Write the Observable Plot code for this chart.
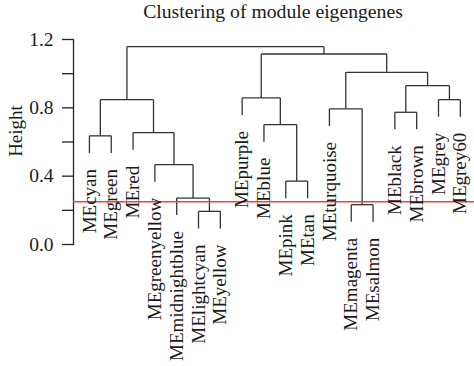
<!DOCTYPE html>
<html>
<head>
<meta charset="utf-8">
<script src="https://cdn.jsdelivr.net/npm/d3@7"></script>
<script src="https://cdn.jsdelivr.net/npm/@observablehq/plot@0.6"></script>
<style>
  body { margin: 0; background: #fff; }
  #title { font-family: "Liberation Serif", serif; font-size: 19.7px; color: #1a1a1a; text-align: center; width: 474px; position: absolute; top: 0; left: 36px; line-height: 22px; }
  #chart { position: absolute; top: 0; left: 0; }
</style>
</head>
<body>
<div id="chart"></div>
<div id="title">Clustering of module eigengenes</div>
<script>
// Leaf labels in dendrogram order
const leaves = ["MEcyan","MEgreen","MEred","MEgreenyellow","MEmidnightblue","MElightcyan","MEyellow",
  "MEpurple","MEblue","MEpink","MEtan","MEturquoise","MEmagenta","MEsalmon",
  "MEblack","MEbrown","MEgrey","MEgrey60"];
// Merge steps (R-style): negative = leaf (1-based index into leaves), positive = earlier merge (1-based)
const mergeLeft  = [-6, -13, -5, -10, -4, -1, -3, -9, -15, -12, 6, -17, -8, 9, 10, 13, 11];
const mergeRight = [-7, -14,  1, -11,  3, -2,  5,  4, -16,   2, 7, -18,  8, 12, 14, 15, 16];
const mergeHeight = [0.194, 0.233, 0.272, 0.371, 0.467, 0.636, 0.655, 0.702, 0.774, 0.794, 0.848, 0.848, 0.858, 0.930, 1.008, 1.115, 1.158];
const hang = 0.1;
const cutHeight = 0.25;
const yTicks = [0, 0.2, 0.4, 0.6, 0.8, 1.0, 1.2];
const yTickLabels = ["0.0", "", "0.4", "", "0.8", "", "1.2"];

// Build segments
const mx = [], segs = [], leafPts = [];
function pos(ref) {
  return ref < 0 ? {x: ref * -1 - 1, h: null} : {x: mx[ref - 1], h: mergeHeight[ref - 1]};
}
mergeLeft.forEach((l, i) => {
  const r = mergeRight[i], h = mergeHeight[i];
  const a = pos(l), b = pos(r);
  mx[i] = (a.x + b.x) / 2;
  segs.push({x1: a.x, x2: b.x, y1: h, y2: h});
  for (const [ref, p] of [[l, a], [r, b]]) {
    const bottom = ref < 0 ? h - hang : p.h;
    segs.push({x1: p.x, x2: p.x, y1: h, y2: bottom});
    if (ref < 0) leafPts.push({name: leaves[p.x], x: p.x, y: bottom});
  }
});

const n = leaves.length;
const plot = Plot.plot({
  width: 474,
  height: 366,
  marginLeft: 73,
  marginRight: 0,
  marginTop: 39,
  marginBottom: 122,
  x: {domain: [-0.73, n - 1 + 0.65], axis: null},
  y: {domain: [0, 1.2]},
  style: {fontFamily: "Liberation Serif, serif", fontSize: "19px", color: "#1a1a1a", background: "#fff"},
  marks: [
    Plot.frame({anchor: "left", stroke: "#222", strokeWidth: 1.3}),
    Plot.axisY({ticks: yTicks, tickFormat: (d, i) => yTickLabels[i], tickSize: 11, tickPadding: 9,
      stroke: "#222", strokeWidth: 1.3, fontSize: 19.5, label: null}),
    Plot.text(["Height"], {frameAnchor: "left", textAnchor: "middle", lineAnchor: "middle", rotate: -90, dx: -58, dy: -11, fontSize: 19, fill: "#1a1a1a"}),
    Plot.link(segs, {x1: "x1", y1: "y1", x2: "x2", y2: "y2", stroke: "#333", strokeWidth: 1.3}),
    Plot.ruleY([cutHeight], {stroke: "#e8463f", strokeWidth: 1.5}),
    Plot.text(leafPts, {x: "x", y: "y", text: "name", rotate: -90, textAnchor: "end", dy: 16, fontSize: 19, fill: "#1a1a1a"})
  ]
});
document.getElementById("chart").appendChild(plot);
</script>
</body>
</html>
